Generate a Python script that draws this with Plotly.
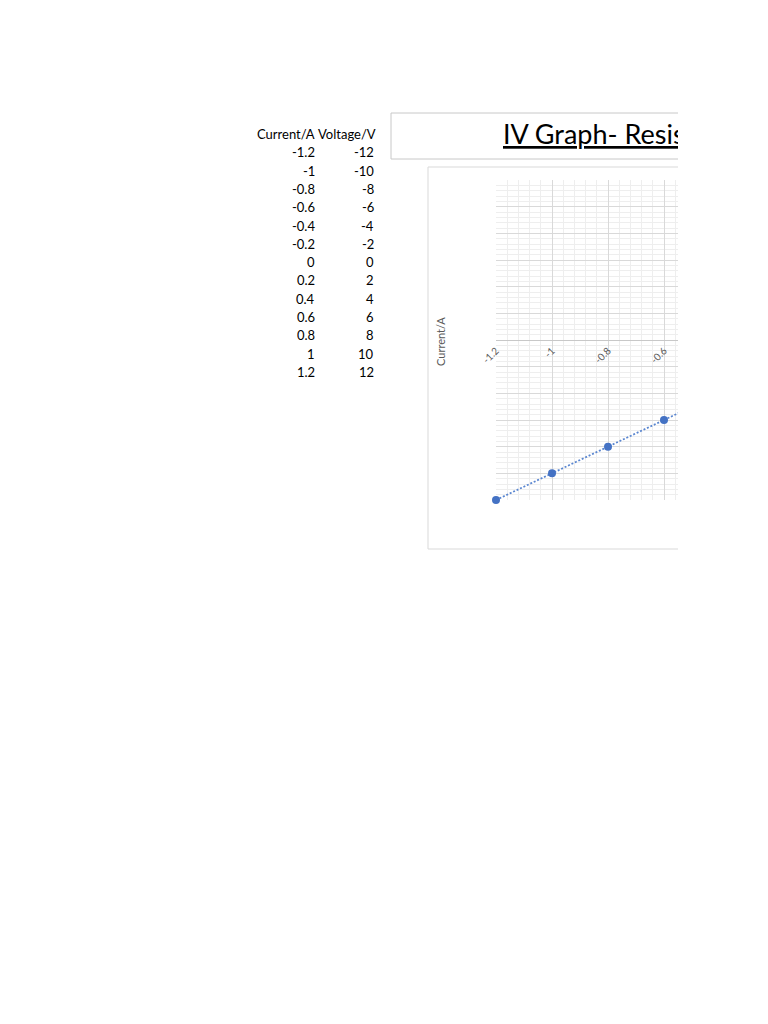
import plotly.graph_objects as go

# data read from the sheet
current = [-1.2, -1, -0.8, -0.6, -0.4, -0.2, 0, 0.2, 0.4, 0.6, 0.8, 1, 1.2]
voltage = [-12, -10, -8, -6, -4, -2, 0, 2, 4, 6, 8, 10, 12]
col_headers = ["Current/A", "Voltage/V"]
chart_title = "IV Graph- Resistor"
y_title = "Current/A"

# page geometry (body margin of the html page is 8px)
OX, OY = 8, 8
W, H = 670, 1000


def px(x):
    return (x - OX) / W


def py(y):
    return 1 - (y - OY) / H


FONT = "Lato, Carlito, Calibri, sans-serif"
GRID = "#d9d9d9"
MINOR = "#eeeeee"
BLUE = "#4472C4"

fig = go.Figure()
fig.add_trace(go.Scatter(x=current,
                         y=voltage,
                         mode='lines+markers',
                         line=dict(color='#5a86d0', width=1.75, dash='2px,1.8px'),
                         marker=dict(color=BLUE, size=8),
                         hoverinfo='none',
                         cliponaxis=False
                         ))

# spreadsheet table as text
annotations = []
row_h = 18.3
annotations.append(dict(text=col_headers[0], x=px(255), y=py(134), xanchor='left'))
annotations.append(dict(text=col_headers[1], x=px(315.5), y=py(134), xanchor='left'))
for i, (c, v) in enumerate(zip(current, voltage)):
    yy = py(134 + (i + 1) * row_h)
    annotations.append(dict(text=str(c), x=px(317), y=yy, xanchor='right'))
    annotations.append(dict(text=str(v), x=px(376), y=yy, xanchor='right'))
for a in annotations:
    a.update(xref='paper', yref='paper', yanchor='middle', showarrow=False,
             font=dict(family=FONT, size=13, color='#000000'))

annotations.append(dict(text='<u>' + chart_title + '</u>', x=px(501), y=py(133),
                        xref='paper', yref='paper', xanchor='left', yanchor='middle',
                        showarrow=False, font=dict(family=FONT, size=27, color='#000000')))
annotations.append(dict(text=y_title, x=px(441), y=py(341), textangle=-90,
                        xref='paper', yref='paper', xanchor='center', yanchor='middle',
                        showarrow=False, font=dict(family=FONT, size=11, color='#595959')))

shapes = [
    # title box
    dict(type='rect', xref='paper', yref='paper', x0=px(391), x1=1.3, y0=py(159), y1=py(113),
         line=dict(color='#c8c8c8', width=1), layer='below'),
    # chart area box
    dict(type='rect', xref='paper', yref='paper', x0=px(428), x1=1.3, y0=py(549), y1=py(167),
         line=dict(color=GRID, width=1), layer='below'),
]

x_left, x_right = 496, 678
x_scale = 280  # px per amp
fig.update_layout(
    width=W, height=H,
    margin=dict(l=0, r=0, t=0, b=0, autoexpand=False),
    paper_bgcolor='white',
    plot_bgcolor='white',
    showlegend=False,
    annotations=annotations,
    shapes=shapes,
    xaxis=dict(domain=[px(x_left), px(x_right)],
               range=[current[0], current[0] + (x_right - x_left) / x_scale],
               tickvals=current, ticktext=[str(c) for c in current],
               tickangle=-45,
               tickfont=dict(family=FONT, size=10, color='#595959'),
               anchor='free', position=py(340),
               automargin=False,
               showline=True, linecolor='#c8c8c8', linewidth=1,
               showgrid=True, gridcolor=GRID, gridwidth=1,
               zeroline=False, ticks='',
               minor=dict(dtick=0.04, tick0=-1.2, showgrid=True, gridcolor=MINOR, gridwidth=1)),
    yaxis=dict(domain=[py(500), py(180)],
               range=[-12, 12],
               dtick=2, tick0=0,
               automargin=False,
               showticklabels=False,
               showgrid=True, gridcolor=GRID, gridwidth=1,
               zeroline=False, showline=False, ticks='',
               minor=dict(dtick=0.4, showgrid=True, gridcolor=MINOR, gridwidth=1)),
)

fig.write_html("out.html")
